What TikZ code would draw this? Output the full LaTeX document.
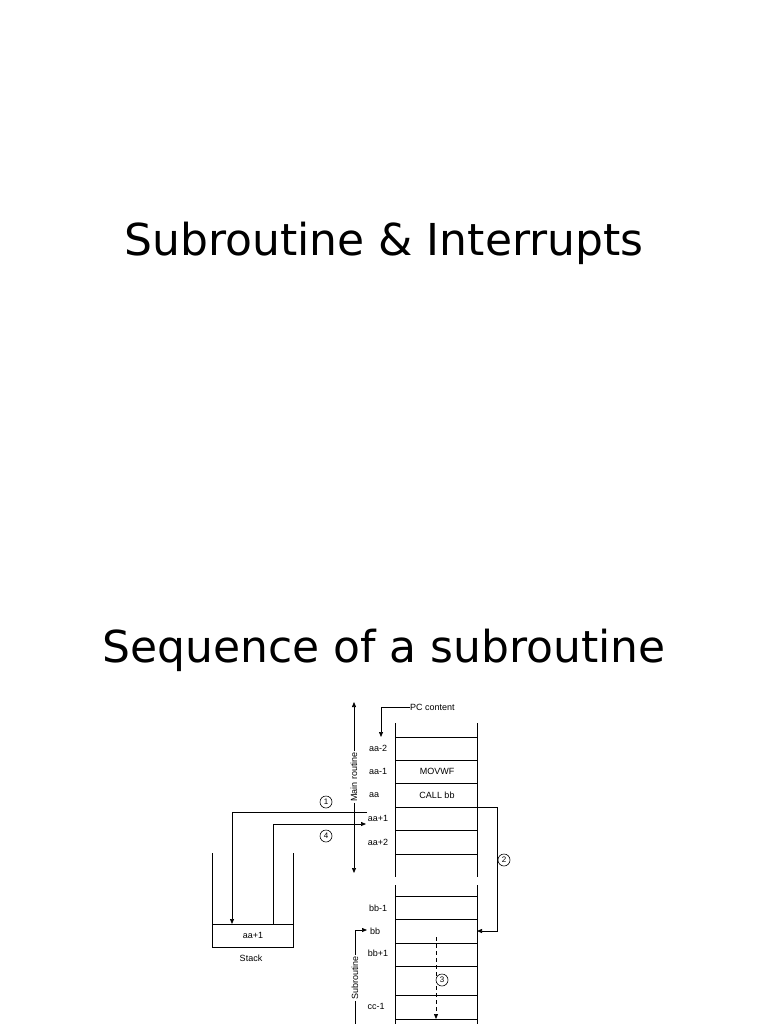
\documentclass[tikz,border=0pt]{standalone}
\usepackage{fontspec}
\setmainfont{DejaVu Sans}
\newfontfamily\arialf{Liberation Sans}
\usetikzlibrary{arrows.meta}
\begin{document}
\begin{tikzpicture}[x=1pt,y=-1pt,
  lab/.style={font=\arialf\fontsize{9}{10}\selectfont, inner sep=0pt},
  num/.style={circle,draw,line width=0.6pt,minimum size=12pt,inner sep=0pt,font=\arialf\fontsize{8}{9}\selectfont},
  ln/.style={line width=0.7pt},
  arr/.style={ln,-{Triangle[length=5pt,width=4pt]}},
  title/.style={font=\fontsize{44}{50}\selectfont, inner sep=0pt}]
\useasboundingbox (0,0) rectangle (768,1024);
\node[title] (t1) at (384,243) {Subroutine \& Interrupts};
\node[title] (t2) at (384,650) {Sequence of a subroutine};
% memory column
\draw[ln] (395,723) -- (395,877) (477,723) -- (477,877);
\draw[ln] (395,885) -- (395,1024) (477,885) -- (477,1024);
\foreach \y in {737,760,783,807,830,854,896,919,943,966,995,1019}
  \draw[ln] (395,\y) -- (477,\y);
\node[lab] (la1) at (378,748) {aa-2};
\node[lab] (la2) at (378,771) {aa-1};
\node[lab] (la3) at (374,795) {aa};
\node[lab] (la4) at (378,818) {aa+1};
\node[lab] (la5) at (378,842) {aa+2};
\node[lab] (lb1) at (378,908) {bb-1};
\node[lab] (lb2) at (375,931) {bb};
\node[lab] (lb3) at (378,953) {bb+1};
\node[lab] (lc1) at (376,1006) {cc-1};
\node[lab] (mov) at (437,771) {MOVWF};
\node[lab] (call) at (437,795) {CALL bb};
% main routine
\node[lab,rotate=90,fill=white,inner sep=1pt] (mr) at (354,777) {Main routine};
\coordinate (mtop) at (354,702); \coordinate (mbot) at (354,873);
\draw[arr] (mr.east) -- (mtop);
\draw[arr] (mr.west) -- (mbot);
% PC content
\node[lab,anchor=west] (pc) at (410,707) {PC content};
\coordinate (pcd) at (381,737);
\draw[arr] (pc.west) -- (381,707) -- (pcd);
% stack
\draw[ln] (212,853) -- (212,947) -- (293,947) -- (293,853);
\draw[ln] (212,924) -- (293,924);
\node[lab] (stk) at (253,935) {aa+1};
\node[lab] (stl) at (251,958) {Stack};
% arrow 1
\coordinate (s1) at (367,812); \coordinate (e1) at (232,924);
\draw[arr] (s1) -- (232,812) -- (e1);
\node[num] (c1) at (326,802) {1};
% arrow 4
\coordinate (s4) at (273,924); \coordinate (e4) at (366,824);
\draw[arr] (s4) -- (273,824) -- (e4);
\node[num] (c4) at (326,836) {4};
% arrow 2
\coordinate (s2) at (477,807); \coordinate (e2) at (477,931);
\draw[arr] (s2) -- (497,807) -- (497,931) -- (e2);
\node[num] (c2) at (504,860) {2};
% arrow 3
\coordinate (s3) at (436,937); \coordinate (e3) at (436,1019);
\draw[arr,dash pattern=on 4pt off 3pt] (s3) -- (e3);
\node[num,fill=white] (c3) at (442,980) {3};
% subroutine
\node[lab,rotate=90,fill=white,inner sep=1pt] (sr) at (355,978) {Subroutine};
\coordinate (sbot) at (355,1024); \coordinate (se) at (367,930);
\draw[ln] (sr.west) -- (sbot);
\draw[arr] (sr.east) -- (355,930) -- (se);
\end{tikzpicture}
\end{document}
